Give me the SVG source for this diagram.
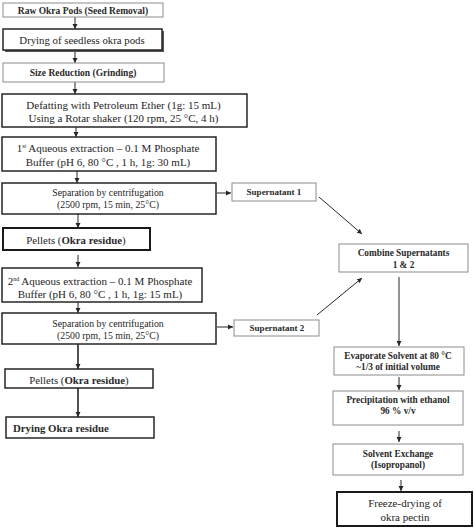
<svg xmlns="http://www.w3.org/2000/svg" width="474" height="528" viewBox="0 0 474 528">
<style>
text{font-family:"Liberation Serif","Times New Roman",serif;fill:#1e1e1e;text-anchor:middle}
.b{font-weight:bold;fill:#2a2a2a}
.light{fill:#fff;stroke:#8c8c8c;stroke-width:1}
.dark{fill:#fff;stroke:#262626;stroke-width:1.5}
.thick{fill:#fff;stroke:#1a1a1a;stroke-width:2}
.c{stroke:#262626;stroke-width:1;fill:none}
.c2{stroke:#262626;stroke-width:1.6;fill:none}
</style>
<defs>
<marker id="ah" markerUnits="userSpaceOnUse" markerWidth="6" markerHeight="6" refX="5" refY="3" orient="auto">
<path d="M0,0.5 L5,3 L0,5.5 Z" fill="#262626"/>
</marker>
</defs>
<rect width="474" height="528" fill="#fff"/>
<g id="connectors">
<line class="c" x1="75" y1="17" x2="75" y2="29" marker-end="url(#ah)"/>
<line class="c" x1="75" y1="51" x2="75" y2="63" marker-end="url(#ah)"/>
<line class="c" x1="75" y1="82" x2="75" y2="94" marker-end="url(#ah)"/>
<line class="c" x1="76" y1="127" x2="76" y2="137" marker-end="url(#ah)"/>
<line class="c" x1="77" y1="171" x2="77" y2="183" marker-end="url(#ah)"/>
<line class="c" x1="78" y1="214" x2="78" y2="228" marker-end="url(#ah)"/>
<line class="c" x1="78" y1="255" x2="78" y2="267" marker-end="url(#ah)"/>
<line class="c" x1="78" y1="302" x2="78" y2="313" marker-end="url(#ah)"/>
<line class="c2" x1="78" y1="344" x2="78" y2="369" marker-end="url(#ah)"/>
<line class="c2" x1="78" y1="388" x2="78" y2="417" marker-end="url(#ah)"/>
<line class="c" x1="217" y1="193" x2="231" y2="193" marker-end="url(#ah)"/>
<line class="c" x1="217" y1="327" x2="233" y2="327" marker-end="url(#ah)"/>
<line class="c" x1="319" y1="197" x2="362" y2="234" marker-end="url(#ah)"/>
<line class="c" x1="317" y1="315" x2="362" y2="278" marker-end="url(#ah)"/>
<line class="c" x1="399" y1="277" x2="399" y2="346" marker-end="url(#ah)"/>
<line class="c" x1="399" y1="377" x2="399" y2="390" marker-end="url(#ah)"/>
<line class="c" x1="399" y1="431" x2="399" y2="442" marker-end="url(#ah)"/>
<line class="c" x1="401" y1="480" x2="401" y2="491" marker-end="url(#ah)"/>
</g>
<g id="n1"><rect class="light" x="3" y="3" width="160" height="14"/><text class="b" x="83" y="13.5" font-size="9.5">Raw Okra Pods (Seed Removal)</text></g>
<g id="n2"><rect x="5" y="31" width="159" height="21" fill="#555"/><rect class="dark" x="3" y="29" width="159" height="21" stroke-width="1.2"/><text x="82" y="43.5" font-size="10.8">Drying of seedless okra pods</text></g>
<g id="n3"><rect class="light" x="3" y="63" width="161" height="19"/><text class="b" x="83" y="76" font-size="9.5">Size Reduction (Grinding)</text></g>
<g id="n4"><rect class="dark" x="2" y="94" width="245" height="33"/><text x="123.5" y="108.5" font-size="11">Defatting with Petroleum Ether (1g: 15 mL)</text><text x="123.5" y="121.5" font-size="11">Using a Rotar shaker (120 rpm, 25 °C, 4 h)</text></g>
<g id="n5"><rect class="dark" x="2" y="137" width="214" height="34"/><text x="108" y="152" font-size="11">1<tspan font-size="6" dy="-4">st</tspan><tspan dy="4">   Aqueous extraction – 0.1 M Phosphate</tspan></text><text x="108" y="165.5" font-size="11">Buffer (pH 6, 80 °C , 1 h, 1g: 30 mL)</text></g>
<g id="n6"><rect class="dark" x="2" y="183" width="214" height="31"/><text x="108" y="196" font-size="9.8">Separation by centrifugation</text><text x="108" y="207.5" font-size="9.8">(2500 rpm, 15 min, 25°C)</text></g>
<g id="n7"><rect class="thick" x="3" y="228" width="147" height="22"/><text x="76" y="243.5" font-size="10.8">Pellets (<tspan class="b">Okra residue</tspan>)</text></g>
<g id="n8"><rect class="dark" x="2" y="268" width="200" height="34"/><text x="100" y="284.5" font-size="11">2<tspan font-size="6" dy="-4">nd</tspan><tspan dy="4"> Aqueous extraction – 0.1 M Phosphate</tspan></text><text x="100" y="297.5" font-size="11">Buffer (pH 6, 80 °C , 1 h, 1g: 15 mL)</text></g>
<g id="n9"><rect class="dark" x="2" y="313" width="214" height="31"/><text x="108" y="327" font-size="9.8">Separation by centrifugation</text><text x="108" y="339" font-size="9.8">(2500 rpm, 15 min, 25°C)</text></g>
<g id="n10"><rect class="dark" x="5" y="369" width="148" height="19"/><text x="79" y="384" font-size="10.8">Pellets (<tspan class="b">Okra residue</tspan>)</text></g>
<g id="n11"><rect class="dark" x="6" y="417" width="148" height="21"/><text class="b" x="13" y="432" font-size="10.8" style="text-anchor:start">Drying Okra residue</text></g>
<g id="s1"><rect class="light" x="232" y="183" width="84" height="18"/><text class="b" x="274" y="195" font-size="9">Supernatant 1</text></g>
<g id="s2"><rect class="light" x="234" y="320" width="85" height="16"/><text class="b" x="277" y="331" font-size="9">Supernatant 2</text></g>
<g id="comb"><rect class="light" x="339" y="244" width="129" height="28"/><text class="b" x="403.5" y="256" font-size="9.3">Combine Supernatants</text><text class="b" x="403.5" y="267.5" font-size="9.3">1 &amp; 2</text></g>
<g id="evap"><rect class="light" x="334" y="347" width="130" height="28"/><text class="b" x="398" y="359" font-size="9.3">Evaporate Solvent at 80 °C</text><text class="b" x="398" y="369.5" font-size="9.3">~1/3 of initial volume</text></g>
<g id="prec"><rect class="light" x="333" y="391" width="130" height="34"/><text class="b" x="398" y="402.5" font-size="9.3">Precipitation with ethanol</text><text class="b" x="398" y="413.5" font-size="9.3">96 % v/v</text></g>
<g id="solv"><rect class="light" x="333" y="444" width="130" height="31"/><text class="b" x="398" y="456.5" font-size="9.3">Solvent Exchange</text><text class="b" x="398" y="467.5" font-size="9.3">(Isopropanol)</text></g>
<g id="freeze"><rect class="thick" x="337" y="492" width="135" height="34"/><text x="405" y="507" font-size="11">Freeze-drying of</text><text x="405" y="520.5" font-size="11">okra pectin</text></g>
</svg>
